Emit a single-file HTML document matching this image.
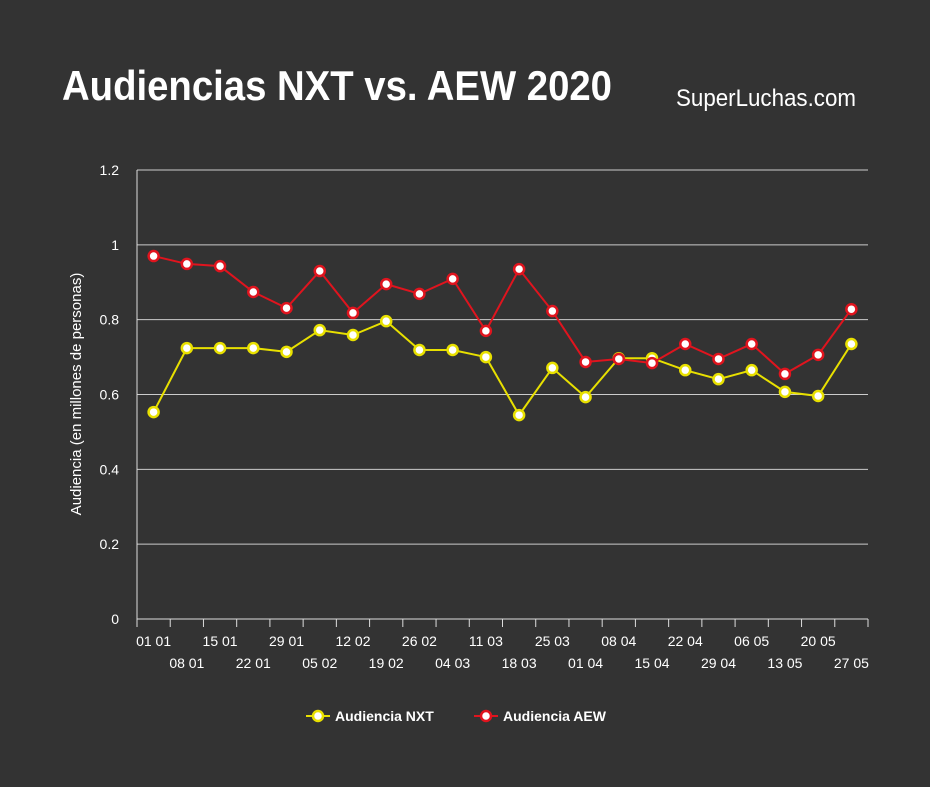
<!DOCTYPE html>
<html><head><meta charset="utf-8"><style>
html,body{margin:0;padding:0;background:#333333;}
svg{display:block;font-family:"Liberation Sans Narrow","Liberation Sans",sans-serif;}
</style></head><body>
<svg id="chart" width="930" height="787" viewBox="0 0 930 787" xmlns="http://www.w3.org/2000/svg">
<rect width="930" height="787" fill="#333333"/>
<text x="62" y="100" fill="#ffffff" font-size="42" font-weight="bold" textLength="550" lengthAdjust="spacingAndGlyphs">Audiencias NXT vs. AEW 2020</text>
<text x="676" y="106" fill="#ffffff" font-size="24" textLength="180" lengthAdjust="spacingAndGlyphs">SuperLuchas.com</text>
<text transform="translate(81,394) rotate(-90)" text-anchor="middle" fill="#ffffff" font-size="15">Audiencia (en millones de personas)</text>
<g id="grid"></g><g id="axes"></g><g id="series"></g>
<g>
<g>
<line x1="306" y1="716" x2="330" y2="716" stroke="#e8e000" stroke-width="2"/>
<circle cx="318" cy="716" r="5" fill="#fff" stroke="#e8e000" stroke-width="2.5"/>
<text x="335" y="721" fill="#fff" font-size="14" font-weight="bold">Audiencia NXT</text></g>
<g>
<line x1="474" y1="716" x2="498" y2="716" stroke="#e0141e" stroke-width="2"/>
<circle cx="486" cy="716" r="5" fill="#fff" stroke="#e0141e" stroke-width="2.5"/>
<text x="503" y="721" fill="#fff" font-size="14" font-weight="bold">Audiencia AEW</text></g>
</g>
</svg>
<script>
const categories=["01 01","08 01","15 01","22 01","29 01","05 02","12 02","19 02","26 02","04 03","11 03","18 03","25 03","01 04","08 04","15 04","22 04","29 04","06 05","13 05","20 05","27 05"];
const nxtValues=[0.553,0.724,0.724,0.724,0.714,0.772,0.759,0.796,0.719,0.719,0.700,0.545,0.671,0.593,0.697,0.697,0.665,0.641,0.665,0.607,0.596,0.735];
const aewValues=[0.970,0.949,0.943,0.874,0.831,0.930,0.818,0.895,0.869,0.909,0.770,0.935,0.823,0.687,0.695,0.684,0.735,0.695,0.735,0.655,0.706,0.828];
const yTicks=[0,0.2,0.4,0.6,0.8,1,1.2];
const NS="http://www.w3.org/2000/svg";
const L=137,R=868,T=170,B=619,YMAX=1.2;
const band=(R-L)/categories.length;
function x(i){return L+band*(i+0.5);}
function y(v){return B-(v/YMAX)*(B-T);}
function mk(tag,attrs,parent){const e=document.createElementNS(NS,tag);for(const k in attrs)e.setAttribute(k,attrs[k]);parent.appendChild(e);return e;}
const grid=document.getElementById('grid'),axes=document.getElementById('axes'),series=document.getElementById('series');
yTicks.forEach(t=>{
  const g=mk('line',{x1:L,x2:R,y1:y(t),y2:y(t),stroke:t===0?'#dddddd':'#cccccc','stroke-width':1},grid);
  
  
  const lb=mk('text',{x:L-18,y:y(t)+5,fill:'#fff','font-size':14,'text-anchor':'end'},axes);
  lb.textContent=String(t);
  
  
});
const ya=mk('line',{x1:L,x2:L,y1:T,y2:B,stroke:'#dddddd'},axes);


categories.forEach((c,i)=>{
  const tk=mk('line',{x1:L+band*i,x2:L+band*i,y1:B,y2:B+8,stroke:'#dddddd'},axes);
  
  
  const lb=mk('text',{x:x(i),y:i%2===0?646:668,fill:'#fff','font-size':14,'text-anchor':'middle'},axes);
  lb.textContent=c;
  
  
});
const te=mk('line',{x1:R,x2:R,y1:B,y2:B+8,stroke:'#dddddd'},axes);


function draw(vals,color,name){
  const p=mk('polyline',{points:vals.map((v,i)=>x(i)+','+y(v)).join(' '),fill:'none',stroke:color,'stroke-width':2},series);
  
  
  vals.forEach((v,i)=>{
    const c=mk('circle',{cx:x(i),cy:y(v),r:5,fill:'#fff',stroke:color,'stroke-width':2.5},series);
    
    
  });
}
draw(nxtValues,'#e8e000','nxt');
draw(aewValues,'#e0141e','aew');
</script>
</body></html>
